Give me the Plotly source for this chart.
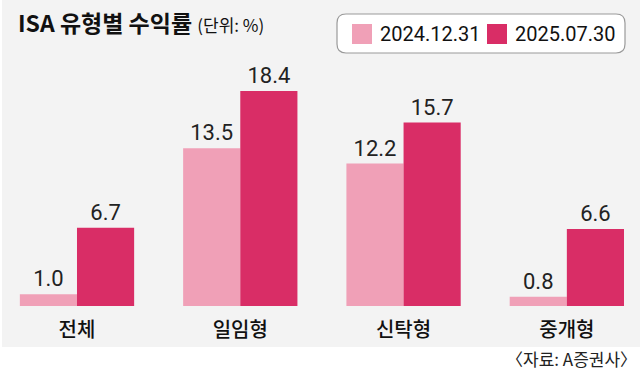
import plotly.graph_objects as go

categories = ["전체", "일임형", "신탁형", "중개형"]
series_names = ["2024.12.31", "2025.07.30"]
values_2024 = [1.0, 13.5, 12.2, 0.8]
values_2025 = [6.7, 18.4, 15.7, 6.6]
colors = ["#F0A0B7", "#D92D66"]

W, H = 640, 373
BASE = 306  # pixel row of the baseline
PLOT_H = BASE


def px(x):
    return x / W


def py(y):
    return (BASE - y) / PLOT_H


NUM_FONT = "Roboto, Noto Sans CJK KR"
KR_FONT = "Noto Sans CJK KR"

fig = go.Figure()
for name, vals, col in zip(series_names, [values_2024, values_2025], colors):
    fig.add_trace(go.Bar(
        x=categories, y=vals, name=name, marker=dict(color=col, line=dict(width=0)),
        text=[f"{v:.1f}" for v in vals], textposition="outside",
        textfont=dict(family=NUM_FONT, size=22, color="#222"),
        cliponaxis=False, showlegend=False,
    ))

yr = 306 / 11.68
shapes = [
    dict(type="rect", xref="paper", yref="paper", x0=px(2), x1=px(640), y0=py(347), y1=py(0),
         fillcolor="#F3F3F3", line=dict(width=0), layer="below"),
]
# rounded legend box
L, R, T, B, rr = 337, 625, 14, 53, 9
path = (f"M {px(L+rr)},{py(T)} L {px(R-rr)},{py(T)} Q {px(R)},{py(T)} {px(R)},{py(T+rr)} "
        f"L {px(R)},{py(B-rr)} Q {px(R)},{py(B)} {px(R-rr)},{py(B)} "
        f"L {px(L+rr)},{py(B)} Q {px(L)},{py(B)} {px(L)},{py(B-rr)} "
        f"L {px(L)},{py(T+rr)} Q {px(L)},{py(T)} {px(L+rr)},{py(T)} Z")
shapes.append(dict(type="path", xref="paper", yref="paper", path=path,
                   fillcolor="white", line=dict(color="#9a9a9a", width=1.2), layer="below"))

annotations = [
    dict(xref="paper", yref="paper", x=px(16), y=py(22), xanchor="left", yanchor="middle",
         text="<b>ISA 유형별 수익률</b> <span style='font-size:17px'>(단위: %)</span>",
         showarrow=False, font=dict(family=KR_FONT, size=23, color="#111")),
    dict(xref="paper", yref="paper", x=px(639), y=py(358), xanchor="right", yanchor="middle",
         text="〈자료: A증권사〉", showarrow=False, font=dict(family=KR_FONT, size=17, color="#222")),
]

# legend entries (squares + labels)
leg_x = [352, 487]
for lx, name, col in zip(leg_x, series_names, colors):
    shapes.append(dict(type="rect", xref="paper", yref="paper", x0=px(lx), x1=px(lx + 20),
                       y0=py(44), y1=py(24), fillcolor=col, line=dict(width=0)))
    annotations.append(dict(xref="paper", yref="paper", x=px(lx + 26), y=py(34), xanchor="left",
                            yanchor="middle", text=name, showarrow=False,
                            font=dict(family=NUM_FONT, size=20, color="#111")))

fig.update_layout(
    width=W, height=H, margin=dict(l=0, r=0, t=0, b=H - BASE),
    paper_bgcolor="white", plot_bgcolor="rgba(0,0,0,0)",
    barmode="group", bargap=0.30, bargroupgap=0,
    showlegend=False,
    shapes=shapes, annotations=annotations,
    xaxis=dict(range=[-0.4715, 3.448], showgrid=False, zeroline=False, showline=False,
               ticks="", tickfont=dict(family=KR_FONT, size=20, color="#111", weight=500),
               ticklabelstandoff=10, fixedrange=True),
    yaxis=dict(range=[0, yr], visible=False, fixedrange=True),
    font=dict(family=KR_FONT),
)

fig.write_html("out.html", config={"displayModeBar": False},
               post_script="document.body.style.margin='0';document.body.style.overflow='hidden';")
